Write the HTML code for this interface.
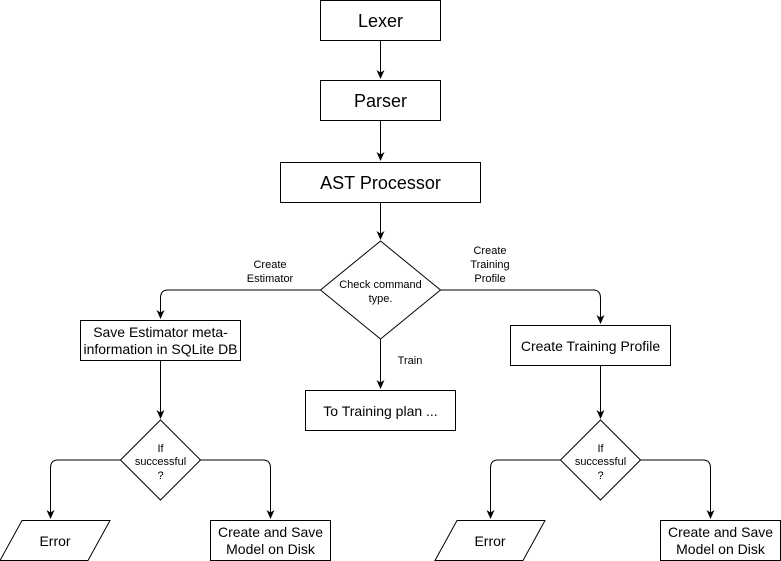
<!DOCTYPE html>
<html><head><style>body{margin:0;background:#fff}svg{display:block}text{font-family:"Liberation Sans",sans-serif;fill:#000}</style></head>
<body>
<svg width="781" height="561" viewBox="0 0 781 561" xmlns="http://www.w3.org/2000/svg">
<defs><marker id="a" markerWidth="10" markerHeight="10" refX="8" refY="5" orient="auto" markerUnits="userSpaceOnUse"><path d="M0,1 L9,5 L0,9 L2.5,5 Z" fill="#000"/></marker></defs>
<g fill="#fff" stroke="#000" stroke-width="1">
<rect x="320.5" y="0.5" width="120" height="40"/>
<rect x="320.5" y="80.5" width="120" height="40"/>
<rect x="280.5" y="162.5" width="200" height="40"/>
<path d="M380.5,241 L440.5,290 L380.5,339 L320.5,290 Z"/>
<rect x="80.5" y="320.5" width="160" height="40"/>
<rect x="305.5" y="390.5" width="150" height="40"/>
<rect x="510.5" y="325.5" width="160" height="40"/>
<path d="M160.5,420 L200.5,460 L160.5,500 L120.5,460 Z"/>
<path d="M600.5,420 L640.5,460 L600.5,500 L560.5,460 Z"/>
<path d="M22,520.5 L110,520.5 L88,560.5 L0,560.5 Z"/>
<rect x="210.5" y="520.5" width="120" height="40"/>
<path d="M457,520.5 L545,520.5 L523,560.5 L435,560.5 Z"/>
<rect x="660.5" y="520.5" width="120" height="40"/>
</g>
<g fill="none" stroke="#000" stroke-width="1" marker-end="url(#a)">
<path d="M380.5,41 V78"/>
<path d="M380.5,121 V160"/>
<path d="M380.5,203 V239"/>
<path d="M320.5,290 H168 Q160.5,290 160.5,298 V318"/>
<path d="M440.5,290 H593 Q600.5,290 600.5,298 V323"/>
<path d="M380.5,339 V388"/>
<path d="M160.5,361 V418"/>
<path d="M600.5,366 V418"/>
<path d="M120.5,460 H58 Q50.5,460 50.5,468 V518"/>
<path d="M200.5,460 H263 Q270.5,460 270.5,468 V518"/>
<path d="M560.5,460 H498 Q490.5,460 490.5,468 V518"/>
<path d="M640.5,460 H703 Q710.5,460 710.5,468 V518"/>
</g>
<g text-anchor="middle" font-size="18">
<text x="380.5" y="27">Lexer</text>
<text x="380.5" y="107">Parser</text>
<text x="380.5" y="189">AST Processor</text>
</g>
<g text-anchor="middle" font-size="14">
<text x="160.5" y="337">Save Estimator meta-</text>
<text x="160.5" y="354">information in SQLite DB</text>
<text x="380.5" y="416">To Training plan ...</text>
<text x="590.5" y="351">Create Training Profile</text>
<text x="55" y="546">Error</text>
<text x="490" y="546">Error</text>
<text x="270.5" y="537">Create and Save</text>
<text x="270.5" y="554">Model on Disk</text>
<text x="720.5" y="537">Create and Save</text>
<text x="720.5" y="554">Model on Disk</text>
</g>
<g text-anchor="middle" font-size="11">
<text x="380.5" y="288">Check command</text>
<text x="380.5" y="302">type.</text>
<text x="160.5" y="452">If</text>
<text x="160.5" y="465">successful</text>
<text x="160.5" y="479">?</text>
<text x="600.5" y="452">If</text>
<text x="600.5" y="465">successful</text>
<text x="600.5" y="479">?</text>
<text x="270" y="268">Create</text>
<text x="270" y="282">Estimator</text>
<text x="490" y="254">Create</text>
<text x="490" y="268">Training</text>
<text x="490" y="282">Profile</text>
<text x="410" y="364">Train</text>
</g>
</svg>
</body></html>
